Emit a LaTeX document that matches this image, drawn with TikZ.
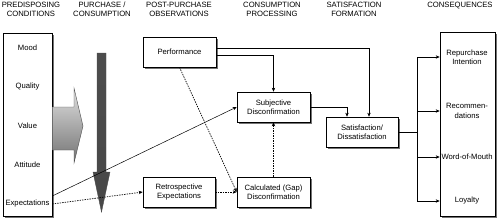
\documentclass[tikz,border=0pt]{standalone}
\usepackage{fontspec}
\setmainfont{Liberation Sans}
\usetikzlibrary{arrows.meta,shadows}
\begin{document}
\begin{tikzpicture}[x=1bp,y=-1bp,
  font=\fontsize{7.7}{9.5}\selectfont,
  box/.style={draw=black, line width=0.6pt, fill=white,
    drop shadow={shadow xshift=1.8bp,shadow yshift=-1.8bp,fill=black!55,opacity=1},
    minimum width=73bp, minimum height=30bp, align=center, inner sep=1bp},
  arr/.style={-{Stealth[length=4bp,width=3.4bp]}, line width=0.5pt},
  dsh/.style={arr, dash pattern=on 1.4bp off 1.1bp, line width=0.7pt},
  lbl/.style={align=center, inner sep=0pt},
  hdr/.style={align=center, inner sep=0pt, font=\fontsize{7.7}{9.3}\selectfont},
  bigarrow/.style={draw=black!70, line width=0.4pt}]
\useasboundingbox (0,0) rectangle (500,222);

% headers
\node[hdr] (h1) at (31,9) {PREDISPOSING\\CONDITIONS};
\node[hdr] (h2) at (102,9) {PURCHASE /\\CONSUMPTION};
\node[hdr] (h3) at (179,9) {POST-PURCHASE\\OBSERVATIONS};
\node[hdr] (h4) at (272,9) {CONSUMPTION\\PROCESSING};
\node[hdr] (h5) at (354,9) {SATISFACTION\\FORMATION};
\node[hdr] (h6) at (460,9) {CONSEQUENCES\\\phantom{X}};

% left box
\node[box, minimum width=49bp, minimum height=183bp] (lbox) at (27.5,124.5) {};
\node[lbl] (mood) at (27.5,48) {Mood};
\node[lbl] (qual) at (27.5,87) {Quality};
\node[lbl] (val) at (27.5,126) {Value};
\node[lbl] (att) at (27.5,165) {Attitude};
\node[lbl] (exp) at (27.5,204) {Expectations};

% right box
\node[box, minimum width=55bp, minimum height=184bp] (rbox) at (467.5,124) {};
\node[lbl] (c1) at (467,57) {Repurchase\\Intention};
\node[lbl] (c2) at (467,111) {Recommen-\\dations};
\node[lbl] (c3) at (467,157) {Word-of-Mouth};
\node[lbl] (c4) at (467,201) {Loyalty};

% middle boxes
\node[box] (perf) at (179.5,52) {Performance};
\node[box] (subj) at (273.5,107) {Subjective\\Disconfirmation};
\node[box] (calc) at (273.5,192) {Calculated (Gap)\\Disconfirmation};
\node[box, minimum width=72bp] (retro) at (179,192) {Retrospective\\Expectations};
\node[box, minimum width=72bp] (sat) at (362,132) {Satisfaction/\\Dissatisfaction};

% big arrows
\shade[bigarrow, top color=black!12, bottom color=black!55]
  (52.6,107) -- (74,107) -- (74,88) -- (83,126) -- (74,163) -- (74,150) -- (52.6,150) -- cycle;
\shade[bigarrow, top color=black!70, middle color=black!8, bottom color=black!72]
  (97,53) -- (106,53) -- (106,172) -- (110,172) -- (101.5,212) -- (93,172) -- (97,172) -- cycle;

% connectors
\draw[arr] ([yshift=4bp]perf.east) -| ([xshift=7bp]sat.north);
\draw[arr] ([yshift=-3bp]perf.east) -| (subj.north);
\draw[arr] (subj.east) -| ([xshift=-15bp]sat.north);
\draw[dsh] (calc.north) -- (subj.south);
\draw[dsh] (perf.south) -- (calc.west);
\coordinate (e1) at ([yshift=8bp]exp.east);
\draw[arr] (e1 -| lbox.east) -- (subj.west);
\draw[dsh] (exp.east -| lbox.east) -- (retro.west);
\draw[dsh] (retro.east) -- (calc.west);
\coordinate (hub) at ([xshift=19bp]sat.east);
\draw[line width=0.5pt] (sat.east) -- (hub);
\draw[line width=0.5pt] (hub |- c1) -- (hub |- c4);
\foreach \c in {c1,c2,c3,c4} \draw[arr] (hub |- \c) -- (rbox.west |- \c);
\end{tikzpicture}
\end{document}
